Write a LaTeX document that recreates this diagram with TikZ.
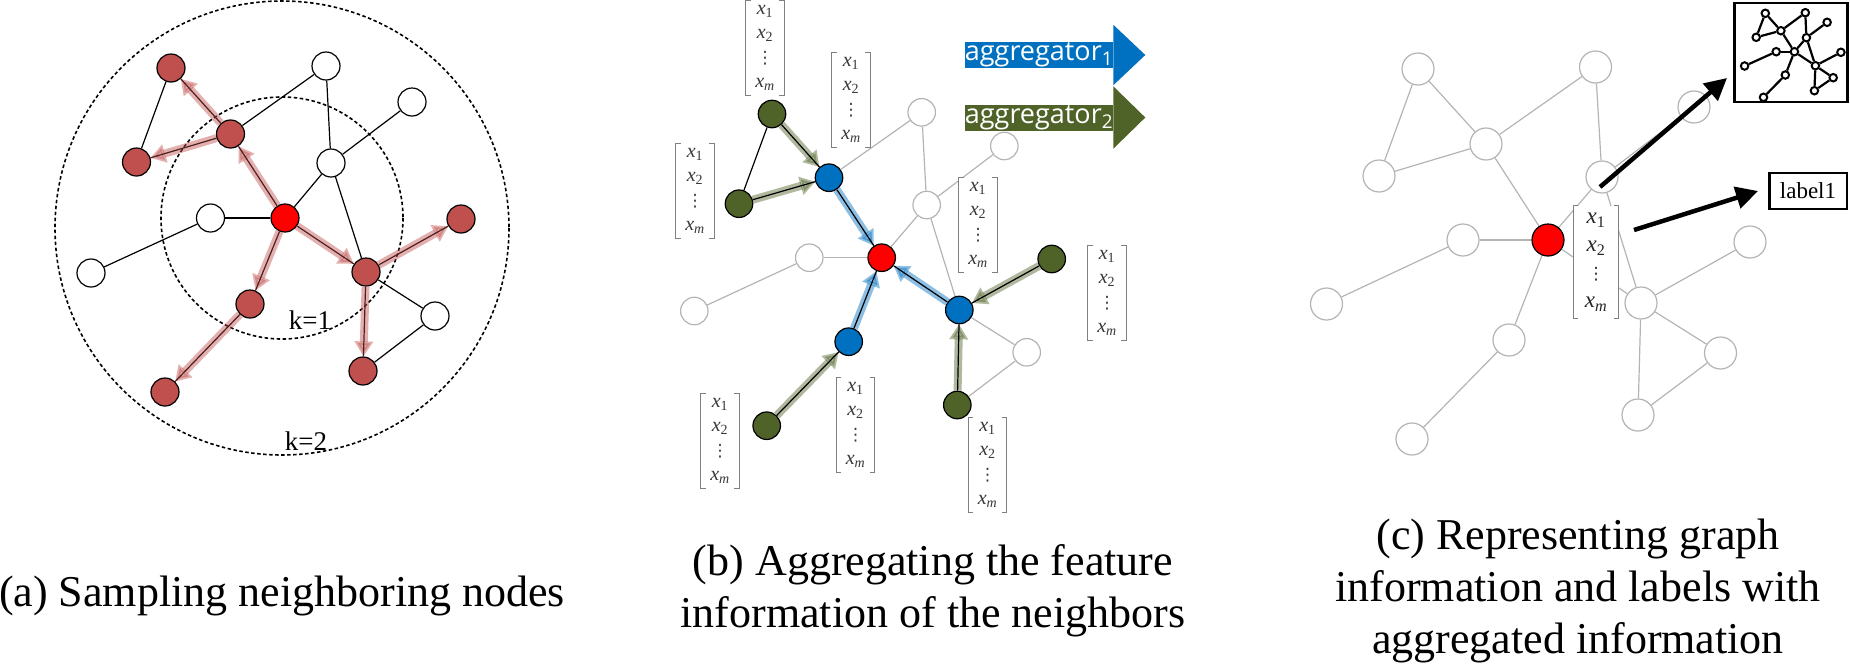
\documentclass[tikz,border=0pt]{standalone}
\usepackage{fontspec}
\setmainfont{Liberation Serif}
\newfontfamily\aggfont{Open Sans}
\newfontfamily\dotfont{DejaVu Sans}
\usepackage{xcolor}
\usepackage{tikz}
\usetikzlibrary{arrows.meta}
\usetikzlibrary{calc}
\usetikzlibrary{backgrounds}
\tikzset{>=latex}

\definecolor{sampred}{HTML}{C0504D}
\definecolor{aggblue}{HTML}{0070C0}
\definecolor{agggreen}{HTML}{4F6228}
\definecolor{edgegray}{HTML}{B4B4B4}
\definecolor{vecgray}{HTML}{383838}

\newcommand{\vx}[1]{\textit{x}\textsubscript{#1}}
\newcommand{\vdts}{{\dotfont\fontsize{17}{17}\selectfont ⋮}}

\begin{document}
\begin{tikzpicture}[
        x=1pt, y=-1pt,
        gnode/.style={circle, draw, line width=1.2pt, inner sep=0pt, minimum size=#1},
        gnode/.default=28pt,
        gray node/.style={gnode=#1, draw=edgegray, fill=white},
        gray node/.default=28pt,
        link/.style={line width=1.2pt},
        faint/.style={line width=1.2pt, draw=edgegray},
        hop/.style={line width=1.6pt, dash pattern=on 3.5pt off 2.5pt},
        band/.style={line width=8pt, opacity=0.45, draw=#1, -{Triangle[width=18pt, length=15pt]}},
        core/.style={line width=1.2pt, draw=#1},
        fvec/.style={rectangle, fill=white, inner sep=0pt, minimum width=38pt, minimum height=94pt,
            align=center, text=vecgray, font=\fontsize{20}{24.5}\selectfont},
        fvecbig/.style={minimum width=45pt, minimum height=112pt, text=black!85, font=\fontsize{23}{28}\selectfont},
        brack/.style={line width=1.2pt, draw=gray},
        aggbox/.style={fill=#1, text=white, inner sep=0pt, minimum width=148pt, minimum height=26pt,
            font={\aggfont\fontsize{27}{27}\selectfont}},
        mnode/.style={circle, draw, line width=2pt, fill=white, inner sep=0pt, minimum size=7.5pt},
        medge/.style={line width=2.2pt},
        bigarrow/.style={line width=4.5pt, -{Triangle[width=22pt, length=22pt]}},
        tagbox/.style={draw, line width=2.5pt, inner sep=0pt},
        caption/.style={font=\fontsize{44}{52}\selectfont, align=center},
        hoplabel/.style={font=\fontsize{27}{27}\selectfont}
    ]

    \useasboundingbox (0,0) rectangle (1850,670);

    %=== Feature vector macro ===%
    \newcommand{\featvec}[3][]{
        \node[fvec, #1] (#2) at (#3) {\vx{1}\\\vx{2}\\\vdts\\\vx{\textit{m}}};
        \draw[brack] ([xshift=5pt]#2.north west) -- (#2.north west) -- (#2.south west) -- ([xshift=5pt]#2.south west);
        \draw[brack] ([xshift=-5pt]#2.north east) -- (#2.north east) -- (#2.south east) -- ([xshift=-5pt]#2.south east);
    }

    %=== (a) Sampling ===%
    \foreach \nm/\px/\py/\col in {a0/285/218/red, a1/230.5/134/sampred, a2/171/68/sampred,
        a3/136.5/162/sampred, a4/326/66/white, a5/412/102/white, a6/331/163/white,
        a7/210.5/218/white, a8/91/273/white, a9/461/219/sampred, a10/366/272/sampred,
        a11/250/304/sampred, a12/165/392/sampred, a13/435/316/white, a14/363/371/sampred}
        \node[gnode, fill=\col] (\nm) at (\px,\py) {};

    \begin{scope}[on background layer]
        \draw[hop] (282,228) circle[radius=227];
        \draw[hop] (282,218) circle[radius=121];
        \foreach \u/\v in {a7/a0, a8/a7, a0/a6, a6/a5, a4/a6, a1/a4, a2/a3, a6/a10, a10/a13, a13/a14}
            \draw[link] (\u) -- (\v);
    \end{scope}

    \node[hoplabel] (k1) at (310,320) {k=1};
    \node[hoplabel] (k2) at (306,441) {k=2};

    \foreach \u/\v in {a0/a1, a1/a2, a1/a3, a0/a10, a10/a9, a10/a14, a0/a11, a11/a12}{
        \draw[band=sampred] (\u) -- (\v);
        \draw[core=sampred!40!black] (\u) -- (\v);
    }

    %=== (b) Aggregating ===%
    \foreach \nm/\px/\py/\col in {b0/881.7/257.7/red, b1/829/177.7/aggblue, b2/959.3/310/aggblue,
        b3/848.7/341.7/aggblue, b4/772/114/agggreen, b5/739/203.7/agggreen,
        b6/1051.7/259/agggreen, b7/957.3/405/agggreen, b8/766.7/425.7/agggreen}
        \node[gnode=27.5pt, fill=\col] (\nm) at (\px,\py) {};
    \foreach \nm/\px/\py in {b9/921.7/112.3, b10/1004.3/146, b11/926.7/205,
        b12/809.3/257.7, b13/694.3/311, b14/1026.7/352.3}
        \node[gray node=27.5pt] (\nm) at (\px,\py) {};

    \begin{scope}[on background layer]
        \foreach \u/\v in {b12/b0, b13/b12, b0/b11, b11/b10, b9/b11, b1/b9, b11/b2, b2/b14, b14/b7}
            \draw[faint] (\u) -- (\v);
        \draw[link] (b4) -- (b5);
    \end{scope}

    \foreach \u/\v in {b1/b0, b3/b0, b2/b0}{
        \draw[band=aggblue] (\u) -- (\v);
        \draw[core=black] (\u) -- (\v);
    }
    \foreach \u/\v in {b4/b1, b5/b1, b6/b2, b7/b2, b8/b3}{
        \draw[band=agggreen] (\u) -- (\v);
        \draw[core=black] (\u) -- (\v);
    }

    \featvec{v1}{765,48}
    \featvec{v2}{851,100}
    \featvec{v3}{695,191}
    \featvec{v4}{978,225}
    \featvec{v5}{1107,293}
    \featvec{v6}{855.5,425}
    \featvec{v7}{720,441}
    \featvec{v8}{987.5,465}

    % aggregator arrows
    \node[aggbox=aggblue] (agg1) at (1039,55) {aggregator\textsubscript{1}};
    \fill[aggblue] ([yshift=17pt]agg1.north east) -- ([xshift=32pt]agg1.east) -- ([yshift=-17pt]agg1.south east) -- cycle;
    \node[aggbox=agggreen] (agg2) at (1039,117.5) {aggregator\textsubscript{2}};
    \fill[agggreen] ([yshift=18pt]agg2.north east) -- ([xshift=32pt]agg2.east) -- ([yshift=-18pt]agg2.south east) -- cycle;

    %=== (c) Representing ===%
    \node[gnode=32pt, fill=red] (c0) at (1548,240) {};
    \foreach \nm/\px/\py in {c1/1418/69, c2/1595.5/67, c3/1694/107, c4/1486/144, c5/1379/176,
        c6/1602/177, c7/1463/240, c8/1326.5/304, c9/1750/242, c10/1641/303,
        c11/1509/340, c12/1720.5/353, c13/1412/439, c14/1638/415}
        \node[gray node=32pt] (\nm) at (\px,\py) {};

    \begin{scope}[on background layer]
        \foreach \u/\v in {c1/c4, c1/c5, c5/c4, c4/c2, c2/c6, c6/c3, c4/c0, c7/c0, c8/c7,
            c0/c6, c0/c10, c6/c10, c10/c9, c10/c12, c10/c14, c12/c14, c0/c11, c11/c13}
            \draw[faint] (\u) -- (\v);
    \end{scope}

    \featvec[fvecbig]{v9}{1596,262}

    % graph summary box
    \node[tagbox, minimum width=113pt, minimum height=99pt] (gbox) at (1791,52.5) {};
    \foreach \nm/\px/\py in {m1/1765.3/13.3, m2/1805.3/12.7, m3/1827.1/22.3, m4/1780.9/30.7,
        m5/1756.2/37.3, m6/1806.4/37.7, m7/1776.2/51.7, m8/1794.4/51.7, m9/1840.9/52.3,
        m10/1744.6/66, m11/1815.4/65.7, m12/1785.3/75, m13/1833.2/77.7, m14/1763.5/97.3, m15/1814.4/90.7}
        \node[mnode] (\nm) at (\px,\py) {};
    \begin{scope}[on background layer]
        \foreach \u/\v in {m1/m5, m1/m4, m5/m4, m4/m2, m2/m6, m6/m3, m4/m8, m7/m8, m10/m7,
            m8/m6, m8/m11, m6/m11, m11/m9, m11/m13, m11/m15, m13/m15, m8/m12, m12/m14}
            \draw[medge] (\u) -- (\v);
    \end{scope}

    \node[tagbox, minimum width=77.5pt, minimum height=36pt, font=\fontsize{23}{23}\selectfont] (tag) at (1808,191) {label1};

    \coordinate (p1) at (1600,187);
    \coordinate (q1) at (1727,78);
    \coordinate (p2) at (1634,230);
    \draw[bigarrow] (p1) -- (q1);
    \draw[bigarrow] (p2) -- ([xshift=-10pt]tag.west);

    %=== Captions ===%
    \node[caption] (capa) at (282,596) {(a) Sampling neighboring nodes};
    \node[caption] (capb) at (933,591) {(b) Aggregating the feature\\information of the neighbors};
    \node[caption] (capc) at (1578,591) {(c) Representing graph\\information and labels with\\aggregated information};

\end{tikzpicture}
\end{document}
